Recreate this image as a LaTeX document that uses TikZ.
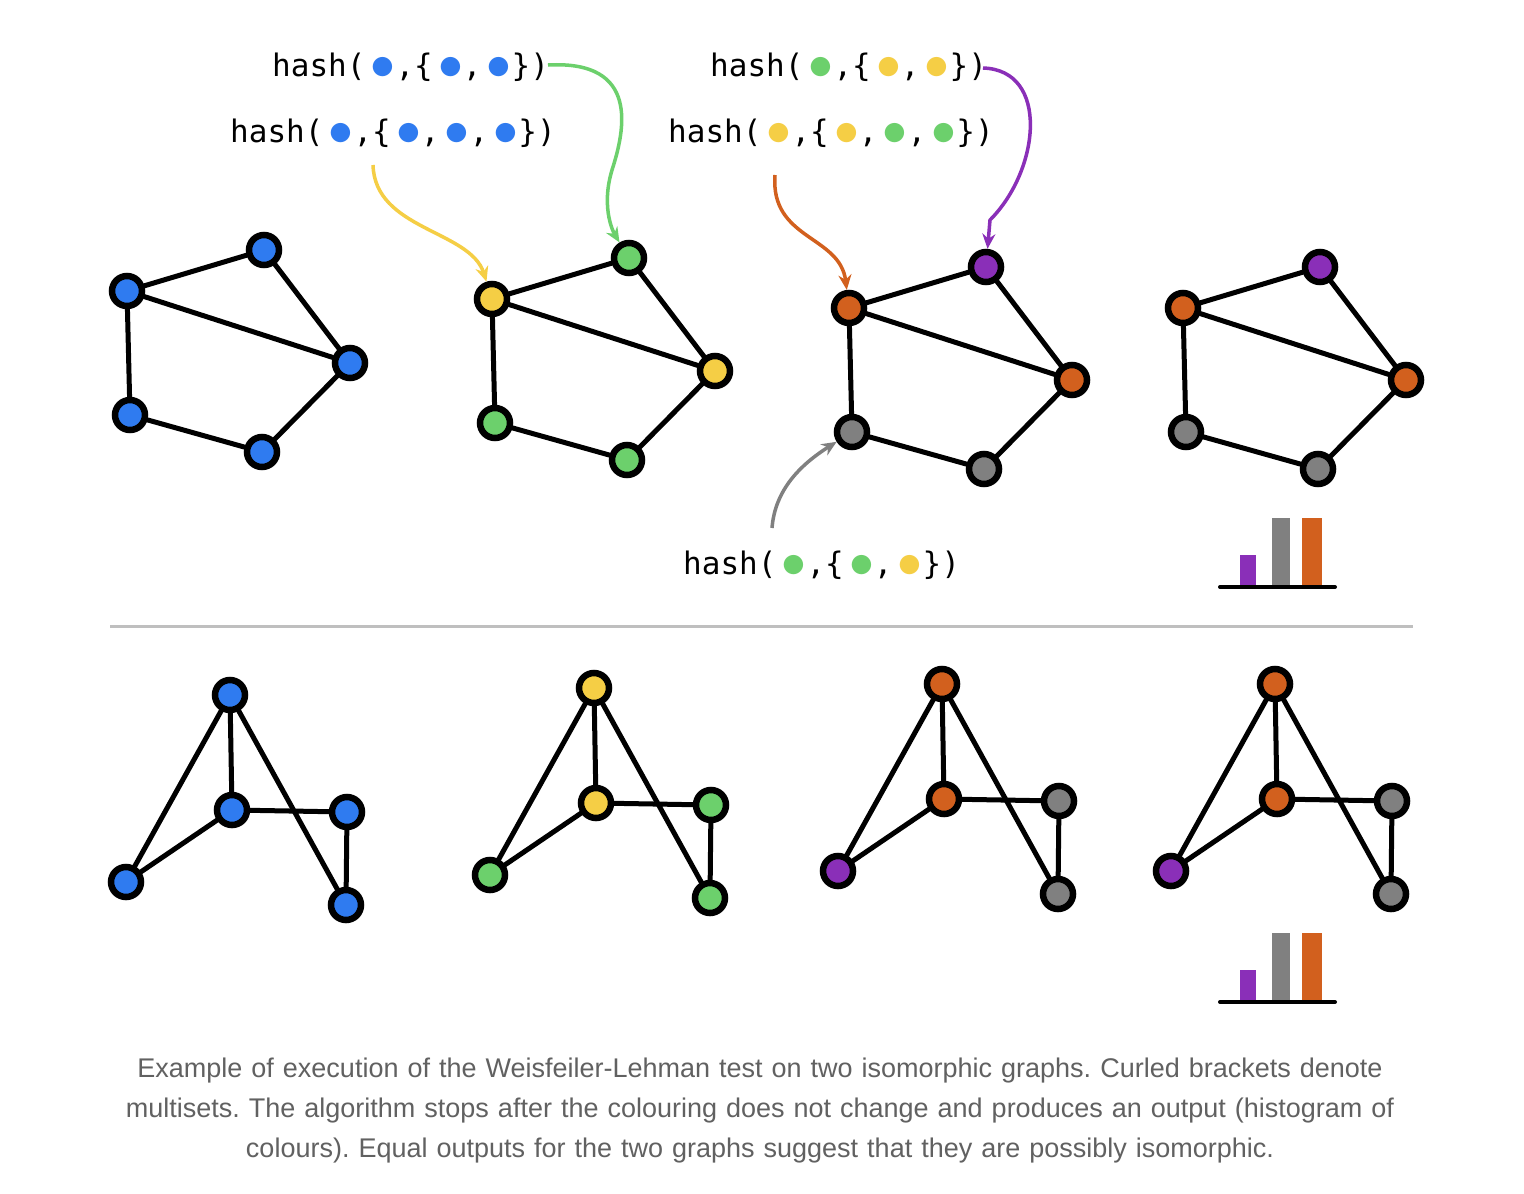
\documentclass[tikz,border=0pt]{standalone}
\usepackage{fontspec}
\setmainfont{Liberation Sans}
\newfontfamily\hand{DejaVu Sans Mono}
\usetikzlibrary{arrows.meta}
\definecolor{cb}{HTML}{2F7BF0}
\definecolor{cg}{HTML}{6CD06C}
\definecolor{cy}{HTML}{F5CE45}
\definecolor{co}{HTML}{D2601E}
\definecolor{cp}{HTML}{8A2FB8}
\definecolor{cgr}{HTML}{808080}
\newcommand\wldot[1]{\,\textcolor{#1}{\raisebox{-0.12em}{\scalebox{2}{$\bullet$}}}}
\tikzset{
 v/.style={circle,draw=black,line width=6.5pt,minimum size=30pt,inner sep=0pt,fill=#1},
 e/.style={line width=5pt,line cap=round},
 lab/.style={font=\hand\fontsize{31}{32}\selectfont,inner sep=0pt,anchor=west},
 arr/.style={line width=3.5pt,draw=#1,-{Stealth[length=15pt,width=13pt]}},
}
\newcommand\wltop[8]{%
 \begin{scope}[shift={(#2,#3)}]
 \node[v=#4] (#1a) at (0,0) {};
 \node[v=#5] (#1b) at (137,-41) {};
 \node[v=#6] (#1c) at (223,72) {};
 \node[v=#7] (#1d) at (3,124) {};
 \node[v=#8] (#1e) at (135,161) {};
 \draw[e] (#1a)--(#1b) (#1a)--(#1c) (#1b)--(#1c) (#1a)--(#1d) (#1d)--(#1e) (#1e)--(#1c);
 \end{scope}}
\newcommand\wlbot[8]{%
 \begin{scope}[shift={(#2,#3)}]
 \node[v=#4] (#1t) at (0,0) {};
 \node[v=#5] (#1m) at (2,115) {};
 \node[v=#6] (#1l) at (-104,187) {};
 \node[v=#7] (#1r) at (117,117) {};
 \node[v=#8] (#1s) at (116,210) {};
 \draw[e] (#1t)--(#1m) (#1t)--(#1l) (#1l)--(#1m) (#1m)--(#1r) (#1r)--(#1s) (#1t)--(#1s);
 \end{scope}}
\begin{document}
\begin{tikzpicture}[x=1pt,y=-1pt]
\useasboundingbox[fill=white] (0,0) rectangle (1524,1194);
\node[lab] (h1) at (272,67) {hash(\wldot{cb},\{\wldot{cb},\wldot{cb}\})};
\node[lab] (h2) at (230,133) {hash(\wldot{cb},\{\wldot{cb},\wldot{cb},\wldot{cb}\})};
\node[lab] (h3) at (710,67) {hash(\wldot{cg},\{\wldot{cy},\wldot{cy}\})};
\node[lab] (h4) at (668,133) {hash(\wldot{cy},\{\wldot{cy},\wldot{cg},\wldot{cg}\})};
\node[lab] (h5) at (683,565) {hash(\wldot{cg},\{\wldot{cg},\wldot{cy}\})};
\wltop{ga}{127}{291}{cb}{cb}{cb}{cb}{cb}
\wltop{gb}{492}{299}{cy}{cg}{cy}{cg}{cg}
\wltop{gc}{849}{308}{co}{cp}{co}{cgr}{cgr}
\wltop{gd}{1183}{308}{co}{cp}{co}{cgr}{cgr}
\wlbot{ba}{230}{695}{cb}{cb}{cb}{cb}{cb}
\wlbot{bb}{594}{688}{cy}{cy}{cg}{cg}{cg}
\wlbot{bc}{942}{684}{co}{co}{cp}{cgr}{cgr}
\wlbot{bd}{1275}{684}{co}{co}{cp}{cgr}{cgr}
\coordinate (ys) at (373,165);
\coordinate (gs) at (548,65);
\coordinate (os) at (775,175);
\coordinate (ps) at (983,68);
\coordinate (rs) at (772,528);
\draw[arr=cy] (ys) .. controls (375,230) and (470,230) .. (gba);
\draw[arr=cg] (gs) .. controls (640,60) and (625,130) .. (612,170) .. controls (600,210) and (615,235) .. (gbb);
\draw[arr=co] (os) .. controls (770,240) and (840,235) .. (gca);
\draw[arr=cp] (ps) .. controls (1050,70) and (1040,170) .. (990,220) -- (gcb);
\draw[arr=cgr] (rs) .. controls (775,490) and (800,465) .. (gcd);
\draw[line width=3pt,draw=gray!50] (110,626) -- (1413,626);
\foreach \yb in {587,1002}{
 \fill[cp] (1240,\yb-32) rectangle (1256,\yb);
 \fill[cgr] (1272,\yb-69) rectangle (1290,\yb);
 \fill[co] (1302,\yb-69) rectangle (1322,\yb);
 \draw[line width=4pt,line cap=round] (1220,\yb) -- (1335,\yb);
}
\node[font=\fontsize{27}{40}\selectfont,text=black!62,align=center,text width=1450pt] (cap) at (760,1111)
{\frenchspacing Example of execution of the Weisfeiler-Lehman test on two isomorphic graphs. Curled brackets denote\\
multisets. The algorithm stops after the colouring does not change and produces an output (histogram of\\
colours). Equal outputs for the two graphs suggest that they are possibly isomorphic.};
\end{tikzpicture}
\end{document}
